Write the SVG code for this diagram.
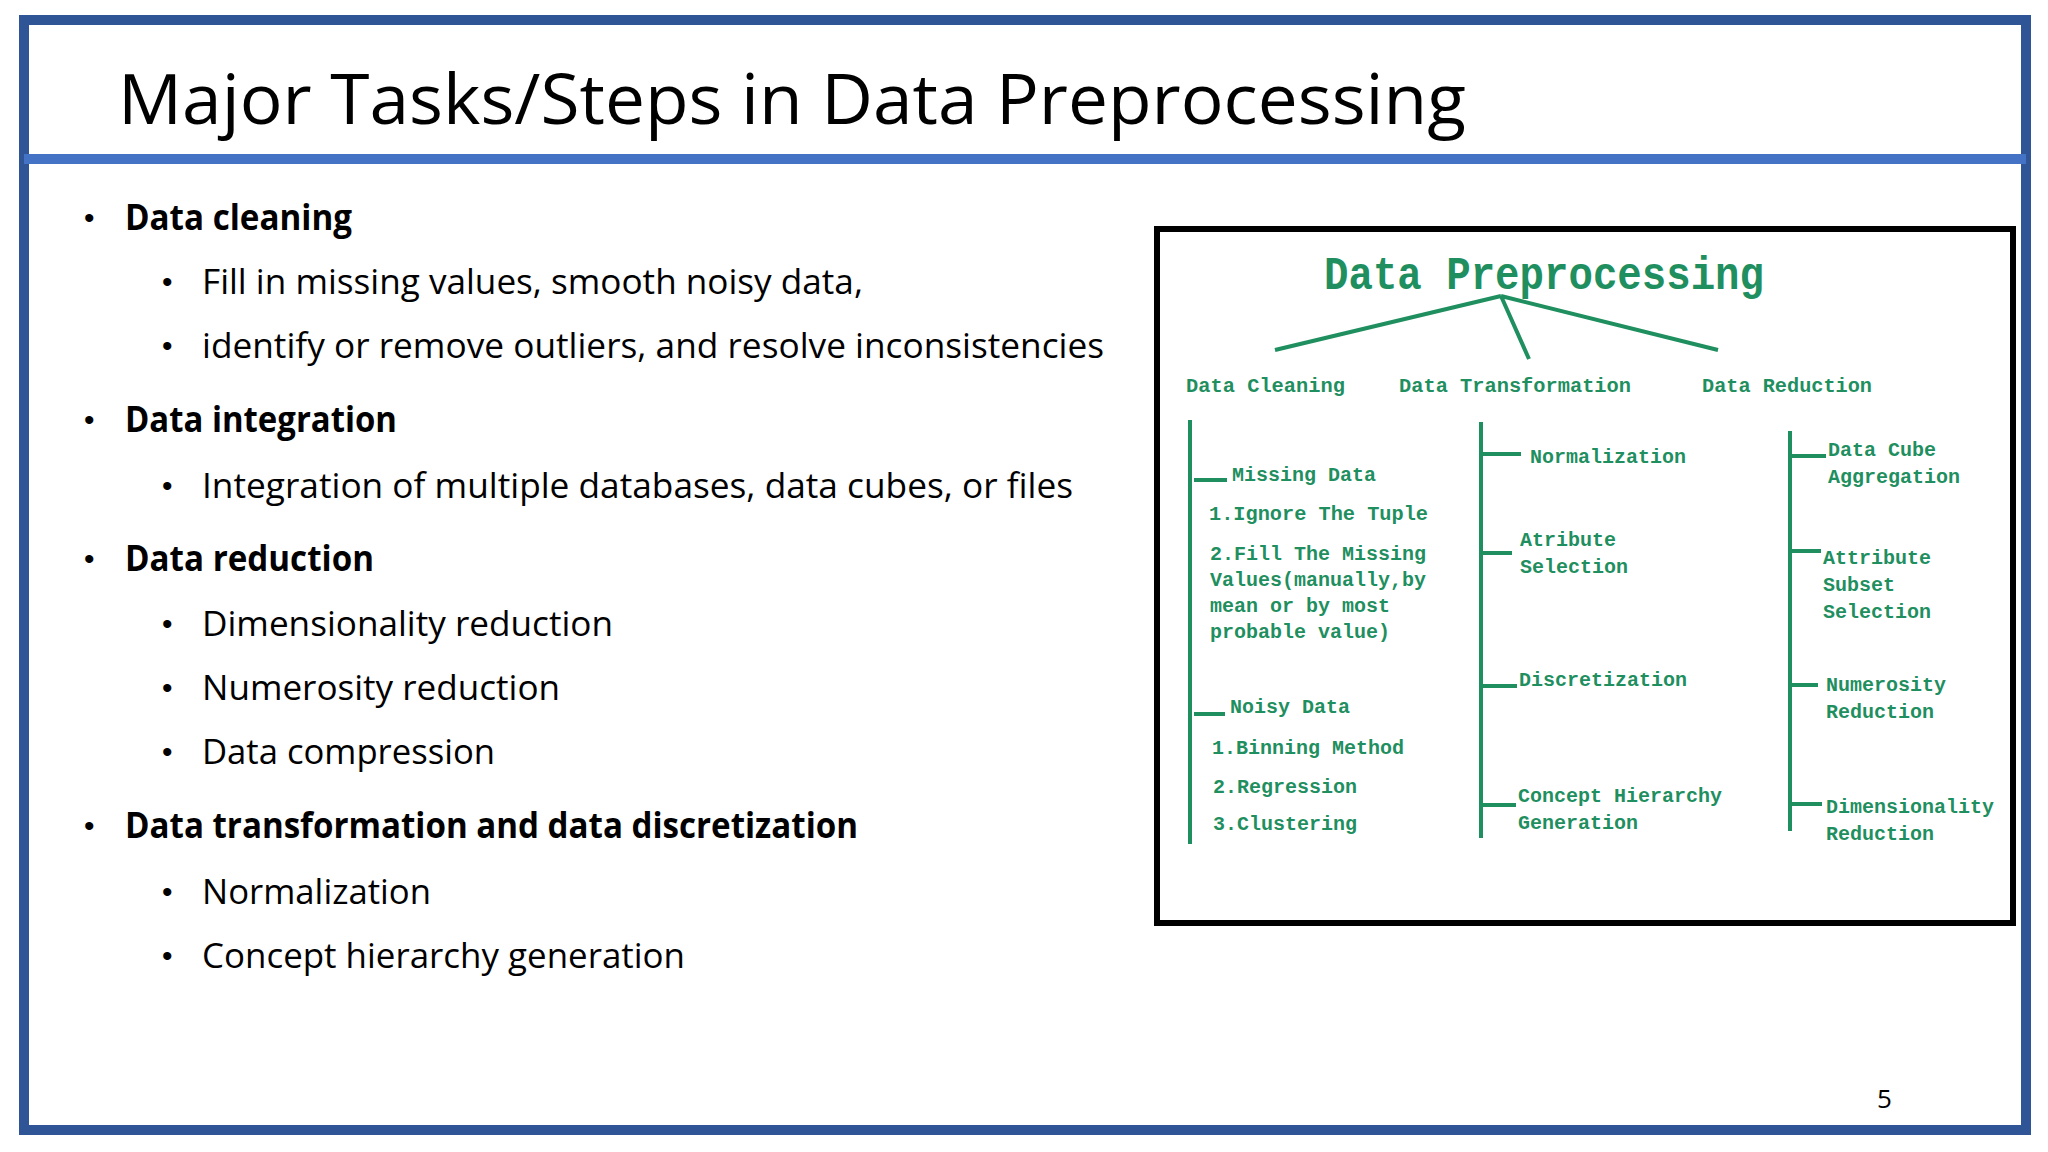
<svg xmlns="http://www.w3.org/2000/svg" width="2048" height="1152" viewBox="0 0 2048 1152">
<style>
.b{font-family:"Open Sans","Liberation Sans",sans-serif;font-size:35px;fill:#000}
.bb{font-weight:bold}
.dot{font-family:"Liberation Sans",sans-serif;font-size:30px}
.g{font-family:"Liberation Mono","DejaVu Sans Mono",monospace;font-weight:bold;font-size:20px;fill:#1f8f5f}
.gt{font-size:46px}
.gl{stroke:#1f8f5f;stroke-width:4;fill:none}
</style>
<rect x="0" y="0" width="2048" height="1152" fill="#fff"/>
<rect x="24" y="20" width="2002" height="1110" fill="none" stroke="#2f5597" stroke-width="10"/>
<line x1="24" y1="159" x2="2026" y2="159" stroke="#4472c4" stroke-width="10"/>
<text x="118" y="124" font-family="Open Sans, Liberation Sans, sans-serif" font-size="70" textLength="1348" lengthAdjust="spacingAndGlyphs">Major Tasks/Steps in Data Preprocessing</text>
<g id="bullets">
<text class="b dot" x="84" y="228">•</text><text class="b bb" x="125" y="230" textLength="227" lengthAdjust="spacingAndGlyphs">Data cleaning</text>
<text class="b dot" x="162" y="292">•</text><text class="b" x="202" y="294" textLength="661" lengthAdjust="spacingAndGlyphs">Fill in missing values, smooth noisy data,</text>
<text class="b dot" x="162" y="356">•</text><text class="b" x="202" y="358" textLength="902" lengthAdjust="spacingAndGlyphs">identify or remove outliers, and resolve inconsistencies</text>
<text class="b dot" x="84" y="430">•</text><text class="b bb" x="125" y="432" textLength="272" lengthAdjust="spacingAndGlyphs">Data integration</text>
<text class="b dot" x="162" y="496">•</text><text class="b" x="202" y="498" textLength="871" lengthAdjust="spacingAndGlyphs">Integration of multiple databases, data cubes, or files</text>
<text class="b dot" x="84" y="569">•</text><text class="b bb" x="125" y="571" textLength="249" lengthAdjust="spacingAndGlyphs">Data reduction</text>
<text class="b dot" x="162" y="634">•</text><text class="b" x="202" y="636" textLength="411" lengthAdjust="spacingAndGlyphs">Dimensionality reduction</text>
<text class="b dot" x="162" y="698">•</text><text class="b" x="202" y="700" textLength="358" lengthAdjust="spacingAndGlyphs">Numerosity reduction</text>
<text class="b dot" x="162" y="762">•</text><text class="b" x="202" y="764" textLength="293" lengthAdjust="spacingAndGlyphs">Data compression</text>
<text class="b dot" x="84" y="836">•</text><text class="b bb" x="125" y="838" textLength="733" lengthAdjust="spacingAndGlyphs">Data transformation and data discretization</text>
<text class="b dot" x="162" y="902">•</text><text class="b" x="202" y="904" textLength="229" lengthAdjust="spacingAndGlyphs">Normalization</text>
<text class="b dot" x="162" y="966">•</text><text class="b" x="202" y="968" textLength="483" lengthAdjust="spacingAndGlyphs">Concept hierarchy generation</text>
</g>
<text x="1877" y="1108" font-family="Open Sans, Liberation Sans, sans-serif" font-size="26">5</text>
<g id="figure">
<rect x="1157" y="229" width="856" height="694" fill="#fff" stroke="#000" stroke-width="6"/>
<text class="g gt" x="1324" y="289" textLength="440" lengthAdjust="spacingAndGlyphs">Data Preprocessing</text>
</g>
<g id="connectors" class="gl">
<path d="M1501 296 L1275 350 M1501 296 L1529 359 M1501 296 L1718 350"/>
<path d="M1190 420 V844 M1194 480 H1227 M1194 714 H1225"/>
<path d="M1481 422 V838 M1481 454 H1521 M1481 553 H1512 M1481 686 H1517 M1481 805 H1516"/>
<path d="M1790 431 V831 M1790 456 H1826 M1790 551 H1821 M1790 685 H1818 M1790 804 H1822"/>
</g>
<g id="col-cleaning">
<text class="g" x="1186" y="392" textLength="159" lengthAdjust="spacingAndGlyphs">Data Cleaning</text>
<text class="g" x="1232" y="481">Missing Data</text>
<text class="g" x="1209" y="520" textLength="219" lengthAdjust="spacingAndGlyphs">1.Ignore The Tuple</text>
<text class="g" x="1210" y="560">2.Fill The Missing</text>
<text class="g" x="1210" y="586">Values(manually,by</text>
<text class="g" x="1210" y="612">mean or by most</text>
<text class="g" x="1210" y="638">probable value)</text>
<text class="g" x="1230" y="713">Noisy Data</text>
<text class="g" x="1212" y="754">1.Binning Method</text>
<text class="g" x="1213" y="793">2.Regression</text>
<text class="g" x="1213" y="830">3.Clustering</text>
</g>
<g id="col-transformation">
<text class="g" x="1399" y="392" textLength="232" lengthAdjust="spacingAndGlyphs">Data Transformation</text>
<text class="g" x="1530" y="463">Normalization</text>
<text class="g" x="1520" y="546">Atribute</text>
<text class="g" x="1520" y="573">Selection</text>
<text class="g" x="1519" y="686">Discretization</text>
<text class="g" x="1518" y="802">Concept Hierarchy</text>
<text class="g" x="1518" y="829">Generation</text>
</g>
<g id="col-reduction">
<text class="g" x="1702" y="392" textLength="170" lengthAdjust="spacingAndGlyphs">Data Reduction</text>
<text class="g" x="1828" y="456">Data Cube</text>
<text class="g" x="1828" y="483">Aggregation</text>
<text class="g" x="1823" y="564">Attribute</text>
<text class="g" x="1823" y="591">Subset</text>
<text class="g" x="1823" y="618">Selection</text>
<text class="g" x="1826" y="691">Numerosity</text>
<text class="g" x="1826" y="718">Reduction</text>
<text class="g" x="1826" y="813">Dimensionality</text>
<text class="g" x="1826" y="840">Reduction</text>
</g>
</svg>
